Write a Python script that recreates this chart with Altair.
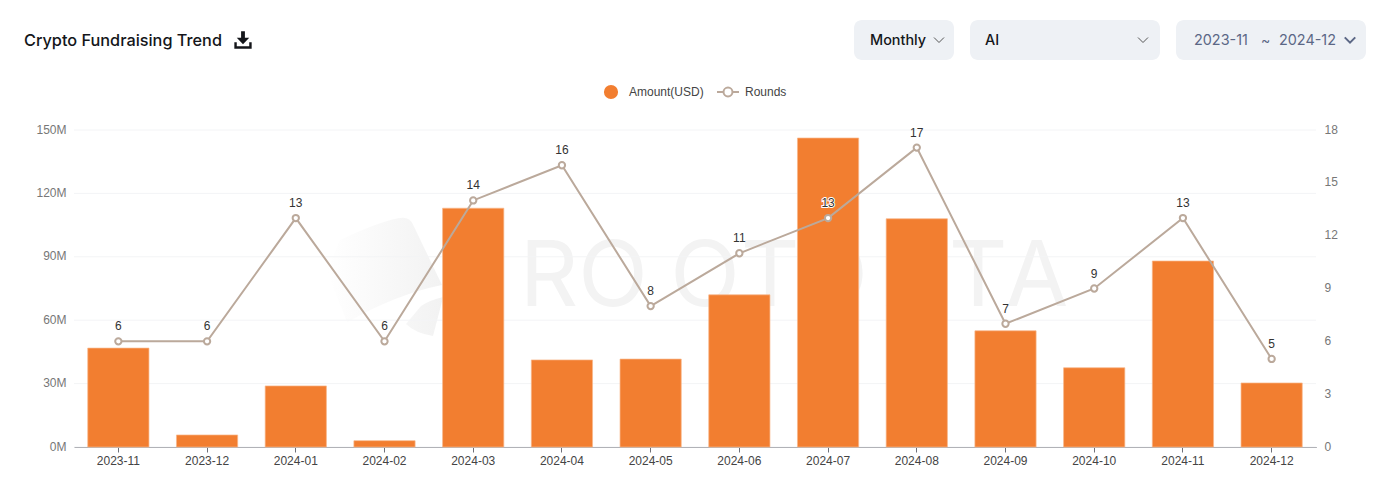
import altair as alt
import pandas as pd

months = ["2023-11","2023-12","2024-01","2024-02","2024-03","2024-04","2024-05","2024-06","2024-07","2024-08","2024-09","2024-10","2024-11","2024-12"]
amount_m = [46.8,5.7,28.9,3.0,113.0,41.2,41.6,72.0,146.2,108.0,55.0,37.5,88.0,30.3]
rounds = [6,6,13,6,14,16,8,11,13,17,7,9,13,5]
left_ticks = [0,30,60,90,120,150]
right_ticks = [0,3,6,9,12,15,18]
wm_letters = list("ROOTDATA")
wm_centres = [549,613,705,770,835,915,978,1037]

ORIGIN_X, ORIGIN_Y = 74, 130
W, H = 1242, 317
ORANGE = "#F27E30"
LINE = "#BBA99B"
SANS = "Liberation Sans"

df = pd.DataFrame({"month": months, "amount": amount_m, "rounds": rounds})

xs = alt.Scale(domain=months, paddingInner=0.31, paddingOuter=0.155)
y_amount = alt.Scale(domain=[0,150], nice=False)
y_rounds = alt.Scale(domain=[0,18], nice=False)
x_enc = alt.X("month:N", scale=xs, sort=None,
              axis=alt.Axis(title=None, labelAngle=0, labelFont=SANS, labelFontSize=12, labelColor="#444",
                            domainColor="#6E7079", tickColor="#6E7079", tickSize=5, labelPadding=3, grid=False))

def px(v): return alt.value(v - ORIGIN_X)
def py(v): return alt.value(v - ORIGIN_Y)

def text(s, x, y, **kw):
    base = dict(font=SANS, fontSize=12, align="left", baseline="middle", color="#333")
    base.update(kw)
    return alt.Chart().mark_text(text=s, **base).encode(x=px(x), y=py(y))

def box(x0, x1, y0, y1):
    return alt.Chart().mark_rect(color="#EEF1F5", cornerRadius=8).encode(x=px(x0), x2=px(x1), y=py(y0), y2=py(y1))

CHEVRON = "M-1,-0.5L0,0.5L1,-0.5"
def chevron(x, y, size, width=1, color="#555"):
    return alt.Chart().mark_point(shape=CHEVRON, size=size, stroke=color, strokeWidth=width, filled=False, opacity=1).encode(x=px(x), y=py(y))

ICON = "M-0.22,-1H0.22V-0.25H0.72L0,0.5L-0.72,-0.25H-0.22ZM-1,0.25H-0.72V0.72H0.72V0.25H1V1H-1Z"
icon = alt.Chart().mark_point(shape=ICON, size=300, fill="#14161A", filled=True, opacity=1, strokeWidth=0).encode(x=px(243), y=py(40))

LOGO = "M-0.97,0.03L-0.75,-0.5Q0,-0.85 0.3,-0.87Q0.42,-0.87 0.47,-0.75L0.95,0.25Q0.2,0.4 -0.63,0.87ZM0.6,0.6Q0.75,0.5 0.97,0.45L0.8,1.1Q0.5,1.05 0.35,0.9Z"
logo_fill = alt.Gradient(gradient="linear", x1=0, x2=1, y1=0.5, y2=0.5,
                         stops=[alt.GradientStop(color="#FFFFFF", offset=0), alt.GradientStop(color="#F2F2F2", offset=1)])
logo = alt.Chart().mark_point(shape=LOGO, size=14400, fill=logo_fill, filled=True, opacity=1, strokeWidth=0).encode(x=px(385), y=py(270))
wm = [text(c, x, 279, fontSize=91, font="Inter", fontWeight=400, color="#F3F3F3", align="center")
      for c, x in zip(wm_letters, wm_centres)]

grid = alt.Chart(pd.DataFrame({"v": left_ticks})).mark_rule(color="#F3F4F6", strokeWidth=1).encode(
    y=alt.Y("v:Q", scale=y_amount, axis=None))

bars = alt.Chart(df).mark_bar(color=ORANGE, stroke="#F8B68A", strokeWidth=1, strokeOpacity=0.7).encode(
    x=x_enc,
    y=alt.Y("amount:Q", scale=y_amount,
            axis=alt.Axis(title=None, orient="left", values=left_ticks, labelExpr="datum.value + 'M'", grid=False,
                          domain=False, ticks=False, labelFont=SANS, labelFontSize=12, labelColor="#777", labelPadding=8, labelOffset=-1)))

right_axis = alt.Chart(pd.DataFrame({"v": right_ticks})).mark_rule(opacity=0).encode(
    y=alt.Y("v:Q", scale=y_rounds,
            axis=alt.Axis(title=None, orient="right", values=right_ticks, grid=False, domain=False, ticks=False,
                          labelFont=SANS, labelFontSize=12, labelColor="#777", labelPadding=8, labelOffset=-1)))

y_r = alt.Y("rounds:Q", scale=y_rounds, axis=None)
line = alt.Chart(df).mark_line(color=LINE, strokeWidth=2).encode(x=x_enc, y=y_r)
pts = alt.Chart(df).mark_point(filled=True, fill="white", stroke=LINE, strokeWidth=2, size=40, opacity=1).encode(x=x_enc, y=y_r)
halo = alt.Chart(df).transform_filter("datum.month == '2024-07'").mark_text(
    font=SANS, fontSize=12, dy=-15, color="white", stroke="white", strokeWidth=2).encode(x=x_enc, y=y_r, text="rounds:Q")
labels = alt.Chart(df).mark_text(font=SANS, fontSize=12, dy=-15, color="#333").encode(x=x_enc, y=y_r, text="rounds:Q")

legend = [
    alt.Chart().mark_point(filled=True, fill=ORANGE, size=200, opacity=1, strokeWidth=0).encode(x=px(611), y=py(92)),
    text("Amount(USD)", 629, 92, color="#444"),
    alt.Chart().mark_rule(color=LINE, strokeWidth=2).encode(x=px(717), x2=px(739), y=py(92)),
    alt.Chart().mark_point(filled=True, fill="white", stroke=LINE, strokeWidth=2, size=80, opacity=1).encode(x=px(728), y=py(92)),
    text("Rounds", 745, 92, color="#444"),
]

header = [
    text("Crypto Fundraising Trend", 24, 40.5, font="Inter", fontSize=16.3, fontWeight=500, color="#14161A"),
    icon,
    box(854, 954, 20, 60), box(970, 1160, 20, 60), box(1176, 1366, 20, 60),
    text("Monthly", 870, 40.5, font="Inter", fontSize=14.4, fontWeight=500, color="#14161A"),
    chevron(939, 40, 100),
    text("AI", 985, 40.5, font="Inter", fontSize=14.4, fontWeight=500, color="#14161A"),
    chevron(1143, 40, 100),
    text("2023-11", 1194, 40.5, font="Inter", fontSize=14.4, color="#5B6785"),
    text("~", 1261, 40.5, font="Inter", fontSize=14, color="#5B6785"),
    text("2024-12", 1279, 40.5, font="Inter", fontSize=14.4, color="#5B6785"),
    chevron(1350, 40, 110, width=2, color="#5B6785"),
]

chart = alt.layer(
    logo, *wm, grid, right_axis, bars, line, pts, halo, labels, *legend, *header
).resolve_scale(y="independent").properties(
    width=W, height=H,
    padding={"left": ORIGIN_X - 8, "top": ORIGIN_Y - 8, "right": 54, "bottom": 22},
    autosize=alt.AutoSizeParams(type="none"),
    background="white",
).configure_view(stroke=None)

chart.save("out.html", embed_options={"renderer": "svg", "actions": False})
